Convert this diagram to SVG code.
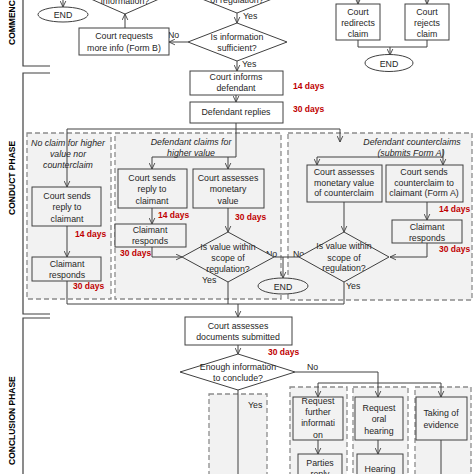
<svg xmlns="http://www.w3.org/2000/svg" width="474" height="474" viewBox="0 0 474 474">
<style>
.t{font-family:"Liberation Sans",Arial,sans-serif;font-size:8.8px;fill:#262626;text-anchor:middle}
.i{font-style:italic}
.s{text-anchor:start}
.r{font-family:"Liberation Sans",Arial,sans-serif;font-size:8.5px;font-weight:bold;fill:#c00000}
.ph{font-family:"Liberation Sans",Arial,sans-serif;font-size:8.5px;font-weight:bold;fill:#000}
.b{fill:#fff;stroke:#404040;stroke-width:1}
.bg{fill:#f2f2f2;stroke:#404040;stroke-width:1}
.reg{fill:#f2f2f2;stroke:#8c8c8c;stroke-width:1.3;stroke-dasharray:5,3}
.c{fill:none;stroke:#404040;stroke-width:1}
.a{fill:none;stroke:#404040;stroke-width:1;marker-end:url(#arr)}
.br{fill:none;stroke:#404040;stroke-width:1.2}
</style>
<defs>
<marker id="arr" viewBox="0 0 10 10" refX="9.5" refY="5" markerWidth="7" markerHeight="7" orient="auto" markerUnits="userSpaceOnUse">
<path d="M1,1 L9.5,5 L1,9" fill="none" stroke="#404040" stroke-width="1.3"/>
</marker>
</defs>
<rect width="474" height="474" fill="#fff"/>

<g id="phases">
<polyline class="br" points="23,0 23,66 50,66"/>
<text class="ph" transform="translate(15,45) rotate(-90)">COMMENCEMENT PHASE</text>
<polyline class="br" points="50,73 23,73 23,314 50,314"/>
<text class="ph" transform="translate(15,215) rotate(-90)">CONDUCT PHASE</text>
<polyline class="br" points="50,318 23,318 23,474"/>
<text class="ph" transform="translate(15,465) rotate(-90)">CONCLUSION PHASE</text>
</g>

<g id="regions">
<rect class="reg" x="27" y="133" width="84" height="166"/>
<rect class="reg" x="115" y="133" width="166" height="166"/>
<rect class="reg" x="288" y="133" width="184" height="167"/>
<rect class="reg" x="209" y="394" width="58" height="95"/>
<rect class="reg" x="290" y="387" width="57" height="100"/>
<rect class="reg" x="353" y="387" width="55" height="100"/>
<rect class="reg" x="415" y="387" width="56" height="100"/>
<text class="t i" x="68" y="146">No claim for higher</text>
<text class="t i" x="68" y="157">value nor</text>
<text class="t i" x="68" y="168">counterclaim</text>
<text class="t i" x="191" y="145">Defendant claims for</text>
<text class="t i" x="191" y="156">higher value</text>
<text class="t i" x="412" y="145">Defendant counterclaims</text>
<text class="t i" x="411" y="156">(submits Form A)</text>
</g>

<g id="connectors">
<line class="a" x1="63" y1="0" x2="63" y2="7"/>
<line class="a" x1="125" y1="28" x2="125" y2="14"/>
<line class="a" x1="237" y1="13" x2="237" y2="23"/>
<line class="a" x1="188" y1="42" x2="169" y2="42"/>
<line class="a" x1="237" y1="61" x2="237" y2="71"/>
<line class="a" x1="236" y1="95" x2="236" y2="102"/>
<line class="a" x1="358" y1="0" x2="358" y2="4"/>
<line class="a" x1="427" y1="0" x2="427" y2="4"/>
<polyline class="c" points="358,40 358,47 427,47 427,40"/>
<line class="a" x1="390" y1="47" x2="390" y2="55"/>
<line class="c" x1="236" y1="123" x2="236" y2="157"/>
<line class="c" x1="67" y1="129" x2="340" y2="129"/>
<line class="a" x1="67" y1="129" x2="67" y2="187"/>
<line class="a" x1="340" y1="129" x2="340" y2="142"/>
<line class="c" x1="152" y1="157" x2="236" y2="157"/>
<line class="a" x1="152" y1="157" x2="152" y2="169"/>
<line class="a" x1="228" y1="157" x2="228" y2="169"/>
<line class="c" x1="317" y1="157" x2="443" y2="157"/>
<line class="c" x1="443" y1="149" x2="443" y2="157"/>
<line class="a" x1="317" y1="157" x2="317" y2="165"/>
<line class="a" x1="443" y1="157" x2="443" y2="165"/>
<line class="a" x1="67" y1="226" x2="67" y2="257"/>
<line class="a" x1="152" y1="208" x2="152" y2="224"/>
<polyline class="a" points="152,247 152,257 182,257"/>
<line class="a" x1="228" y1="208" x2="228" y2="232"/>
<line class="a" x1="427" y1="202" x2="427" y2="220"/>
<polyline class="a" points="427,243 427,257 390,257"/>
<line class="a" x1="344" y1="202" x2="344" y2="232"/>
<line class="c" x1="274" y1="257" x2="299" y2="257"/>
<line class="a" x1="283" y1="257" x2="283" y2="278"/>
<polyline class="c" points="67,281 67,304 344,304 344,282"/>
<line class="c" x1="228" y1="282" x2="228" y2="304"/>
<line class="a" x1="238" y1="304" x2="238" y2="317"/>
<line class="a" x1="238" y1="345" x2="238" y2="354"/>
<polyline class="c" points="295,372 378,372 378,383"/>
<line class="c" x1="318" y1="383" x2="441" y2="383"/>
<line class="a" x1="318" y1="383" x2="318" y2="397"/>
<line class="a" x1="378" y1="383" x2="378" y2="397"/>
<line class="a" x1="441" y1="383" x2="441" y2="397"/>
<line class="c" x1="238" y1="390" x2="238" y2="474"/>
<line class="a" x1="318" y1="440" x2="318" y2="454"/>
<line class="a" x1="378" y1="440" x2="378" y2="454"/>
<line class="c" x1="441" y1="440" x2="441" y2="474"/>
</g>

<g id="labels">
<text class="t s" x="168" y="38">No</text>
<text class="t s" x="243" y="19">Yes</text>
<text class="t s" x="242" y="67">Yes</text>
<text class="t s" x="266" y="257">No</text>
<text class="t s" x="202" y="283">Yes</text>
<text class="t s" x="293" y="257">No</text>
<text class="t s" x="346" y="289">Yes</text>
<text class="t s" x="307" y="370">No</text>
<text class="t s" x="248" y="408">Yes</text>
<text class="r" x="293" y="89">14 days</text>
<text class="r" x="293" y="112">30 days</text>
<text class="r" x="75" y="237">14 days</text>
<text class="r" x="73" y="289">30 days</text>
<text class="r" x="158" y="218">14 days</text>
<text class="r" x="120" y="256">30 days</text>
<text class="r" x="235" y="220">30 days</text>
<text class="r" x="439" y="212">14 days</text>
<text class="r" x="439" y="252">30 days</text>
<text class="r" x="268" y="355">30 days</text>
</g>

<g id="end1"><ellipse class="b" cx="63" cy="14.5" rx="25" ry="7.5"/><text class="t" x="63" y="18">END</text></g>
<g id="dec-info"><polygon class="b" points="75,-8 125,-30 175,-8 125,14"/><text class="t" x="125" y="4">information?</text></g>
<g id="req-info"><rect class="b" x="79" y="28" width="90" height="27"/><text class="t" x="124" y="39">Court requests</text><text class="t" x="124" y="51">more info (Form B)</text></g>
<g id="dec-reg0"><polygon class="b" points="182,-9 237,-31 292,-9 237,13"/><text class="t" x="237" y="3">of regulation?</text></g>
<g id="dec-suff"><polygon class="b" points="188,42 237,23 287,42 237,61"/><text class="t" x="237" y="40">Is information</text><text class="t" x="237" y="51">sufficient?</text></g>
<g id="informs"><rect class="b" x="190" y="71" width="93" height="24"/><text class="t" x="236" y="80">Court informs</text><text class="t" x="236" y="91">defendant</text></g>
<g id="replies"><rect class="b" x="190" y="102" width="93" height="21"/><text class="t" x="236" y="115">Defendant replies</text></g>
<g id="redirects"><rect class="b" x="336" y="4" width="44" height="36"/><text class="t" x="358" y="15">Court</text><text class="t" x="358" y="26">redirects</text><text class="t" x="358" y="37">claim</text></g>
<g id="rejects"><rect class="b" x="405" y="4" width="44" height="36"/><text class="t" x="427" y="15">Court</text><text class="t" x="427" y="26">rejects</text><text class="t" x="427" y="37">claim</text></g>
<g id="end2"><ellipse class="b" cx="389" cy="63" rx="24" ry="8.5"/><text class="t" x="389" y="66.5">END</text></g>

<g id="r1-send"><rect class="bg" x="32" y="187" width="69" height="39"/><text class="t" x="67" y="199">Court sends</text><text class="t" x="67" y="210">reply to</text><text class="t" x="67" y="222">claimant</text></g>
<g id="r1-resp"><rect class="bg" x="32" y="257" width="69" height="24"/><text class="t" x="67" y="267">Claimant</text><text class="t" x="67" y="278">responds</text></g>
<g id="r2-send"><rect class="bg" x="118" y="169" width="69" height="39"/><text class="t" x="152" y="181">Court sends</text><text class="t" x="152" y="192">reply to</text><text class="t" x="152" y="204">claimant</text></g>
<g id="r2-assess"><rect class="bg" x="193" y="169" width="71" height="39"/><text class="t" x="228" y="181">Court assesses</text><text class="t" x="228" y="192">monetary</text><text class="t" x="228" y="204">value</text></g>
<g id="r2-resp"><rect class="bg" x="115" y="224" width="71" height="23"/><text class="t" x="150" y="233">Claimant</text><text class="t" x="150" y="244">responds</text></g>
<g id="r2-dec"><polygon class="bg" points="182,257 228,232 274,257 228,282"/><text class="t" x="228" y="250">Is value within</text><text class="t" x="228" y="261">scope of</text><text class="t" x="228" y="272">regulation?</text></g>
<g id="end3"><ellipse class="bg" cx="283" cy="286" rx="25" ry="8"/><text class="t" x="283" y="289.5">END</text></g>
<g id="r3-assess"><rect class="bg" x="307" y="165" width="75" height="37"/><text class="t" x="344" y="175">Court assesses</text><text class="t" x="344" y="186">monetary value</text><text class="t" x="344" y="196">of counterclaim</text></g>
<g id="r3-send"><rect class="bg" x="386" y="165" width="77" height="37"/><text class="t" x="424" y="175">Court sends</text><text class="t" x="424" y="186">counterclaim to</text><text class="t" x="424" y="196">claimant (Form A)</text></g>
<g id="r3-resp"><rect class="bg" x="392" y="220" width="70" height="23"/><text class="t" x="427" y="230">Claimant</text><text class="t" x="427" y="241">responds</text></g>
<g id="r3-dec"><polygon class="bg" points="299,257 344,232 389,257 344,282"/><text class="t" x="344" y="249">Is value within</text><text class="t" x="344" y="261">scope of</text><text class="t" x="344" y="271">regulation?</text></g>

<g id="assess-docs"><rect class="b" x="185" y="317" width="107" height="28"/><text class="t" x="238" y="329">Court assesses</text><text class="t" x="238" y="340">documents submitted</text></g>
<g id="dec-enough"><polygon class="b" points="180,372 238,354 295,372 238,390"/><text class="t" x="238" y="370">Enough information</text><text class="t" x="238" y="381">to conclude?</text></g>
<g id="req-further"><rect class="bg" x="293" y="397" width="50" height="43"/><text class="t" x="318" y="404">Request</text><text class="t" x="318" y="415">further</text><text class="t" x="318" y="426">informati</text><text class="t" x="318" y="438">on</text></g>
<g id="parties"><rect class="bg" x="298" y="454" width="44" height="30"/><text class="t" x="320" y="466">Parties</text><text class="t" x="320" y="477">reply</text></g>
<g id="req-oral"><rect class="bg" x="355" y="397" width="48" height="43"/><text class="t" x="379" y="411">Request</text><text class="t" x="379" y="422">oral</text><text class="t" x="379" y="434">hearing</text></g>
<g id="hearing"><rect class="bg" x="357" y="454" width="46" height="30"/><text class="t" x="380" y="472">Hearing</text></g>
<g id="evidence"><rect class="bg" x="416" y="397" width="51" height="43"/><text class="t" x="441" y="416">Taking of</text><text class="t" x="441" y="428">evidence</text></g>
</svg>
